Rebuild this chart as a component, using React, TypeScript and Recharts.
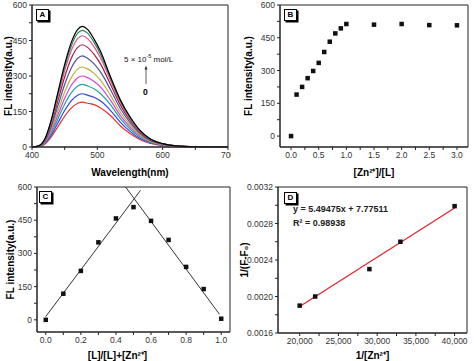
import React from 'react';
import {
  LineChart,
  Line,
  ComposedChart,
  Scatter,
  XAxis,
  YAxis,
  ReferenceArea,
} from 'recharts';

// A: emission spectra, one curve per [Zn2+]/[L] ratio
const wavelengths = [400, 410, 420, 430, 440, 450, 460, 470, 477, 485, 495, 505, 520, 535, 550, 565, 580, 600, 620, 650, 700];
const spec10 = [0, 5, 36, 120, 235, 349, 441, 497, 510, 497, 456, 403, 298, 201, 128, 71, 36, 14, 5, 1, 0];
const spec09 = [0, 5, 35, 116, 227, 338, 426, 481, 493, 481, 442, 391, 291, 197, 124, 70, 35, 14, 5, 1, 0];
const spec08 = [0, 5, 33, 110, 216, 322, 407, 458, 470, 458, 423, 376, 282, 190, 120, 67, 34, 13, 5, 1, 0];
const spec07 = [0, 4, 30, 102, 199, 296, 374, 421, 432, 421, 391, 350, 265, 179, 113, 63, 32, 13, 5, 1, 0];
const spec06 = [0, 4, 27, 90, 177, 264, 333, 375, 385, 375, 351, 316, 243, 164, 104, 58, 29, 12, 4, 1, 0];
const spec05 = [0, 3, 24, 79, 155, 232, 292, 330, 338, 330, 311, 281, 219, 148, 94, 52, 26, 10, 4, 1, 0];
const spec04 = [0, 3, 21, 71, 138, 206, 260, 293, 300, 293, 277, 253, 198, 134, 85, 48, 24, 10, 3, 1, 0];
const spec03 = [0, 3, 19, 62, 122, 182, 229, 258, 265, 258, 246, 225, 179, 121, 76, 43, 21, 9, 3, 1, 0];
const spec02 = [0, 2, 16, 53, 104, 154, 195, 219, 225, 219, 210, 194, 155, 105, 66, 37, 19, 7, 3, 1, 0];
const spec01 = [0, 2, 13, 45, 87, 130, 164, 185, 190, 185, 179, 165, 133, 90, 57, 32, 16, 6, 2, 1, 0];
const spectra = [spec01, spec02, spec03, spec04, spec05, spec06, spec07, spec08, spec09, spec10];
const spectraColors = ['#e8332e', '#3347e0', '#1ea3a6', '#e040dc', '#b4b43a', '#4d4fa6', '#a31d45', '#e3508f', '#2e8a55', '#000000'];

// B: titration
const ratioB = [0, 0.1, 0.2, 0.3, 0.4, 0.5, 0.6, 0.7, 0.8, 0.9, 1.0, 1.5, 2.0, 2.5, 3.0];
const intensityB = [0, 190, 225, 265, 298, 335, 385, 432, 470, 493, 513, 510, 513, 508, 507];

// C: Job's plot
const fractionC = [0, 0.1, 0.2, 0.3, 0.4, 0.5, 0.6, 0.7, 0.8, 0.9, 1.0];
const intensityC = [0, 118, 221, 350, 458, 509, 447, 361, 239, 139, 5];
const riseFitX = [0, 0.54];
const riseFitY = [15, 585];
const fallFitX = [0.455, 0.99];
const fallFitY = [600, 25];

// D: Benesi-Hildebrand
const invZn = [20000, 22000, 29000, 33000, 40000];
const invDeltaF = [0.0019, 0.002, 0.0023, 0.0026, 0.00299];
const bhFitX = [20000, 40000];
const bhFitY = [0.00189, 0.00297];

// major ticks get labels, minor ticks only a tick line
const ticksA_x = [400, 450, 500, 550, 600, 650, 700];
const ticksFL_y = [0, 75, 150, 225, 300, 375, 450, 525, 600];
const ticksB_x = [0, 0.25, 0.5, 0.75, 1, 1.25, 1.5, 1.75, 2, 2.25, 2.5, 2.75, 3];
const ticksC_x = [0, 0.1, 0.2, 0.3, 0.4, 0.5, 0.6, 0.7, 0.8, 0.9, 1];
const ticksD_x = [20000, 22500, 25000, 27500, 30000, 32500, 35000, 37500, 40000];
const ticksD_y = [0.0016, 0.0018, 0.002, 0.0022, 0.0024, 0.0026, 0.0028, 0.003, 0.0032];

const toPoints = (xs: number[], ys: number[]) => xs.map((x, i) => ({ x, y: ys[i] }));
const everyOther = (fmt: (v: number) => string) => (v: number, i: number) => (i % 2 === 0 ? fmt(v) : '');

const spectraRows = wavelengths.map((w, i) => {
  const row: Record<string, number> = { w };
  spectra.forEach((s, k) => {
    row['s' + k] = s[i];
  });
  return row;
});

const axisColor = '#222';
const tickStyle = { fontSize: 8.5, fill: '#333' };
const labelStyle = { fontSize: 10, fontWeight: 'bold', fill: '#000', textAnchor: 'middle' } as any;

const Square = (props: any) => (
  <rect x={props.cx - 2.25} y={props.cy - 2.25} width={4.5} height={4.5} fill="#111" />
);

const boxLabel = (text: string, left: number, top: number) => (
  <div
    style={{
      position: 'absolute',
      left,
      top,
      width: 11,
      height: 10,
      border: '1px solid #000',
      boxShadow: '1.5px 1.5px 0 #000',
      fontSize: 8,
      fontWeight: 'bold',
      lineHeight: '10px',
      textAlign: 'center',
      background: '#fff',
    }}
  >
    {text}
  </div>
);

const App = () => {
  return (
    <div
      style={{
        position: 'absolute',
        left: 0,
        top: 0,
        width: 474,
        height: 361,
        background: '#fff',
        fontFamily: '"Liberation Sans", Arial, sans-serif',
      }}
    >
      {/* A */}
      <div style={{ position: 'absolute', left: 0, top: 0, width: 231, height: 180, overflow: 'hidden' }}>
        <LineChart width={237} height={180} data={spectraRows} margin={{ top: 5, right: 9, bottom: 0, left: 0 }}>
          <XAxis
            type="number"
            dataKey="w"
            domain={[400, 700]}
            ticks={ticksA_x}
            tickFormatter={everyOther((v) => String(v))}
            interval={0}
            height={33}
            tickSize={3}
            tick={tickStyle}
            stroke={axisColor}
            label={{ value: 'Wavelength(nm)', position: 'insideBottom', offset: 4, style: labelStyle }}
          />
          <YAxis
            type="number"
            domain={[0, 600]}
            ticks={ticksFL_y}
            tickFormatter={everyOther((v) => String(v))}
            interval={0}
            width={32}
            tickSize={3}
            tick={tickStyle}
            stroke={axisColor}
            label={{ value: 'FL intensity(a.u.)', angle: -90, position: 'insideLeft', offset: 8, style: labelStyle }}
          />
          <ReferenceArea x1={400} x2={700} y1={0} y2={600} fill="none" stroke={axisColor} />
          {spectra.map((_, k) => (
            <Line
              key={k}
              type="monotone"
              dataKey={'s' + k}
              stroke={spectraColors[k]}
              strokeWidth={1.2}
              dot={false}
              isAnimationActive={false}
            />
          ))}
        </LineChart>
      </div>

      {/* B */}
      <div style={{ position: 'absolute', left: 237, top: 0 }}>
        <ComposedChart width={237} height={180} margin={{ top: 5, right: 6, bottom: 0, left: 0 }}>
          <XAxis
            type="number"
            dataKey="x"
            domain={[-0.2, 3.2]}
            ticks={ticksB_x}
            tickFormatter={everyOther((v) => v.toFixed(1))}
            interval={0}
            allowDataOverflow
            height={33}
            tickSize={3}
            tick={tickStyle}
            stroke={axisColor}
            label={{ value: '[Zn²⁺]/[L]', position: 'insideBottom', offset: 4, style: labelStyle }}
          />
          <YAxis
            type="number"
            dataKey="y"
            domain={[-50, 600]}
            ticks={ticksFL_y}
            tickFormatter={everyOther((v) => String(v))}
            interval={0}
            allowDataOverflow
            width={43}
            tickSize={3}
            tick={tickStyle}
            stroke={axisColor}
            label={{ value: 'FL intensity(a.u.)', angle: -90, position: 'insideLeft', offset: 11, style: labelStyle }}
          />
          <ReferenceArea x1={-0.2} x2={3.2} y1={-50} y2={600} fill="none" stroke={axisColor} />
          <Scatter data={toPoints(ratioB, intensityB)} shape={Square} isAnimationActive={false} />
        </ComposedChart>
      </div>

      {/* C */}
      <div style={{ position: 'absolute', left: 0, top: 180 }}>
        <ComposedChart width={237} height={181} margin={{ top: 7, right: 7, bottom: 0, left: 0 }}>
          <XAxis
            type="number"
            dataKey="x"
            domain={[-0.05, 1.05]}
            ticks={ticksC_x}
            tickFormatter={everyOther((v) => v.toFixed(1))}
            interval={0}
            allowDataOverflow
            height={29}
            tickSize={3}
            tick={tickStyle}
            stroke={axisColor}
            label={{ value: '[L]/[L]+[Zn²⁺]', position: 'insideBottom', offset: 2.5, dx: -16, style: labelStyle }}
          />
          <YAxis
            type="number"
            dataKey="y"
            domain={[-55, 600]}
            ticks={ticksFL_y}
            tickFormatter={everyOther((v) => String(v))}
            interval={0}
            allowDataOverflow
            width={37}
            tickSize={3}
            tick={tickStyle}
            stroke={axisColor}
            label={{ value: 'FL intensity(a.u.)', angle: -90, position: 'insideLeft', offset: 10, style: labelStyle }}
          />
          <ReferenceArea x1={-0.05} x2={1.05} y1={-55} y2={600} fill="none" stroke={axisColor} />
          <Line data={toPoints(riseFitX, riseFitY)} dataKey="y" type="linear" stroke="#333" strokeWidth={1} dot={false} isAnimationActive={false} />
          <Line data={toPoints(fallFitX, fallFitY)} dataKey="y" type="linear" stroke="#333" strokeWidth={1} dot={false} isAnimationActive={false} />
          <Scatter data={toPoints(fractionC, intensityC)} shape={Square} isAnimationActive={false} />
        </ComposedChart>
      </div>

      {/* D */}
      <div style={{ position: 'absolute', left: 237, top: 180 }}>
        <ComposedChart width={237} height={181} margin={{ top: 7, right: 7, bottom: 0, left: 0 }}>
          <XAxis
            type="number"
            dataKey="x"
            domain={[17200, 41600]}
            ticks={ticksD_x}
            tickFormatter={everyOther((v) => v.toLocaleString('en-US'))}
            interval={0}
            allowDataOverflow
            height={28}
            tickSize={3}
            tick={tickStyle}
            stroke={axisColor}
            label={{ value: '1/[Zn²⁺]', position: 'insideBottom', offset: 2.5, style: labelStyle }}
          />
          <YAxis
            type="number"
            dataKey="y"
            domain={[0.0016, 0.0032]}
            ticks={ticksD_y}
            tickFormatter={everyOther((v) => v.toFixed(4))}
            interval={0}
            allowDataOverflow
            width={41}
            tickSize={3}
            tick={tickStyle}
            stroke={axisColor}
            label={{ value: '1/(F-F₀)', angle: -90, position: 'insideLeft', offset: 7, style: labelStyle }}
          />
          <ReferenceArea x1={17200} x2={41600} y1={0.0016} y2={0.0032} fill="none" stroke={axisColor} />
          <Line data={toPoints(bhFitX, bhFitY)} dataKey="y" type="linear" stroke="#e0202a" strokeWidth={1.2} dot={false} isAnimationActive={false} />
          <Scatter data={toPoints(invZn, invDeltaF)} shape={Square} isAnimationActive={false} />
        </ComposedChart>
      </div>

      {/* annotations */}
      {boxLabel('A', 36, 9)}
      {boxLabel('B', 284, 9)}
      {boxLabel('C', 39, 191)}
      {boxLabel('D', 284, 192)}

      <div style={{ position: 'absolute', left: 124, top: 53, fontSize: 8, color: '#111', whiteSpace: 'nowrap' }}>
        5 × 10<sup style={{ fontSize: 5.5 }}>-5</sup> mol/L
      </div>
      <svg style={{ position: 'absolute', left: 0, top: 0 }} width={474} height={361}>
        <line x1={146} y1={84} x2={146} y2={68} stroke="#333" strokeWidth={0.8} />
        <path d="M144.5 69.5 L146 65.5 L147.5 69.5 Z" fill="#333" />
      </svg>
      <div style={{ position: 'absolute', left: 143, top: 87, fontSize: 8.5, fontWeight: 'bold' }}>0</div>

      <div style={{ position: 'absolute', left: 293, top: 204, fontSize: 9, fontWeight: 'bold', color: '#222', whiteSpace: 'nowrap' }}>
        y = 5.49475x + 7.77511
      </div>
      <div style={{ position: 'absolute', left: 293, top: 218, fontSize: 9, fontWeight: 'bold', color: '#222', whiteSpace: 'nowrap' }}>
        R² = 0.98938
      </div>
    </div>
  );
};

export default App;
